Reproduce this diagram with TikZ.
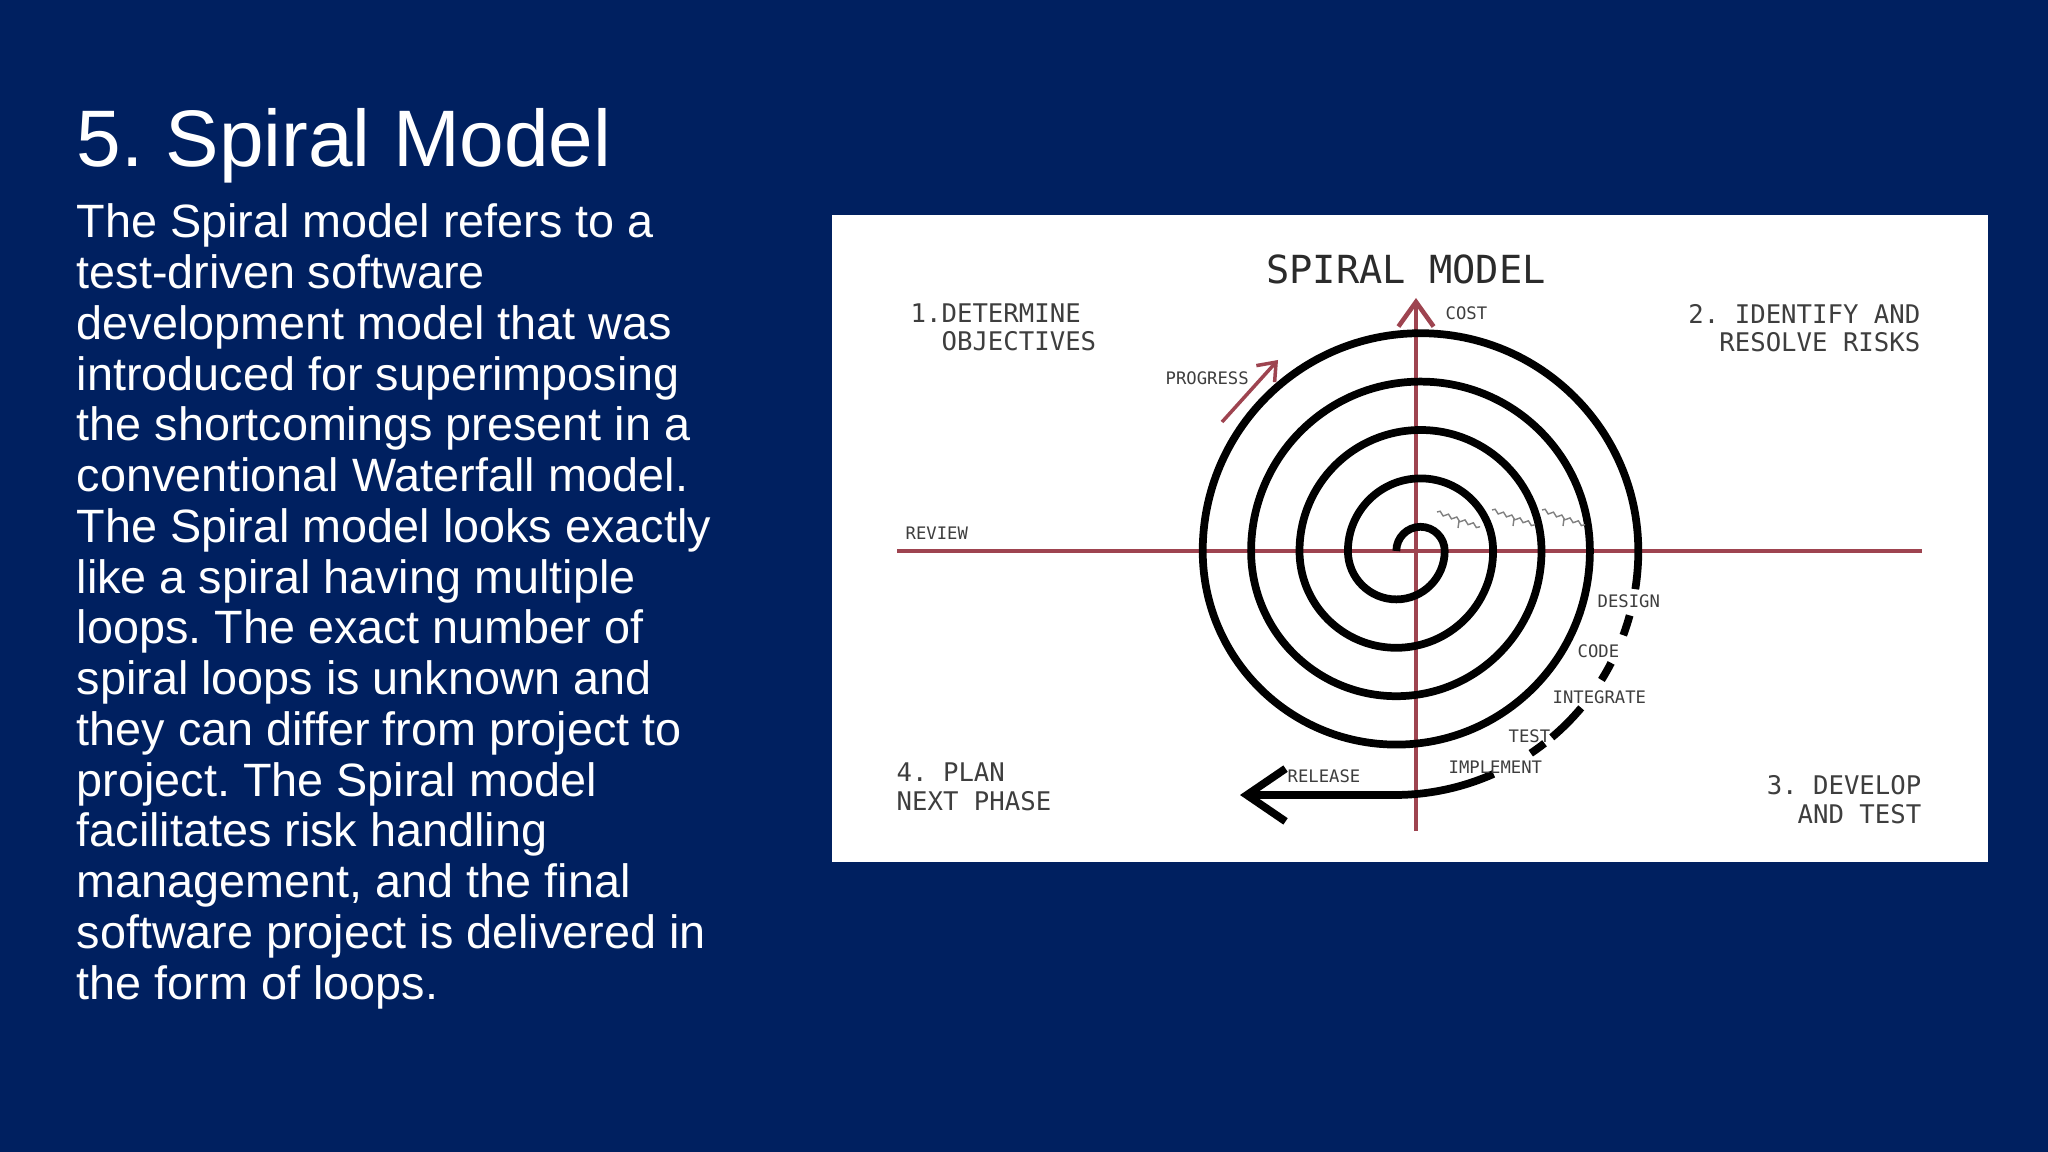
\documentclass[tikz,border=0pt]{standalone}
\usepackage{fontspec}
\setmainfont{Liberation Sans}
\newfontfamily\monofont{DejaVu Sans Mono}
\usetikzlibrary{arrows.meta,decorations.pathmorphing,positioning}
\definecolor{slideblue}{HTML}{002060}
\definecolor{axisred}{RGB}{158,68,80}
\definecolor{inkgray}{RGB}{62,62,62}
\frenchspacing

\begin{document}
\begin{tikzpicture}[x=0.01cm,y=-0.01cm,
		heading/.style={anchor=base west,inner sep=0pt,text=white,font=\fontsize{22.8}{26}\selectfont},
		body/.style={anchor=base west,inner sep=0pt,text=white,align=left,font=\fontsize{13.3}{14.43}\selectfont},
		quadrant/.style={inner sep=0pt,text=inkgray,font=\monofont\fontsize{7.3}{8}\selectfont},
		tag/.style={anchor=base west,inner sep=0pt,text=inkgray,font=\monofont\fontsize{4.9}{6}\selectfont},
		axis/.style={draw=axisred,line width=1.3pt},
		spiral/.style={draw=black,line width=2.2pt},
		scribble/.style={draw=gray,line width=0.4pt,decorate,decoration={snake,amplitude=0.5pt,segment length=2.5pt}}]
				\fill[slideblue] (0,0) rectangle (2048,1152);
				\node[heading] (heading) at (76,167) {5. Spiral Model};
				% base of a multi-line node is its last line
				\node[body] (intro) at (76,999) {The Spiral model refers to a\\test-driven software\\development model that was\\introduced for superimposing\\the shortcomings present in a\\conventional Waterfall model.\\The Spiral model looks exactly\\like a spiral having multiple\\loops. The exact number of\\spiral loops is unknown and\\they can differ from project to\\project. The Spiral model\\facilitates risk handling\\management, and the final\\software project is delivered in\\the form of loops.};
				% the picture
				\fill[white] (832,215) rectangle (1988,862);
				\node[anchor=base,inner sep=0pt,text=inkgray!70!black,font=\monofont\fontsize{11}{13}\selectfont] (diagtitle) at (1406,284) {SPIRAL MODEL};
				\node[quadrant,anchor=base west,align=left] (q1) at (910,351) {1.DETERMINE\\\hphantom{1.}OBJECTIVES};
				\node[quadrant,anchor=base east,align=right] (q2) at (1921,352) {2. IDENTIFY AND\\RESOLVE RISKS};
				\node[quadrant,anchor=base east,align=right] (q3) at (1922,823) {3. DEVELOP\\AND TEST};
				\node[quadrant,anchor=base west,align=left] (q4) at (896,810) {4. PLAN\\NEXT PHASE};
				% axes
				\coordinate (west) at (897,551);
				\coordinate (east) at (1922,551);
				\coordinate (south) at (1416,831);
				\coordinate (north) at (1416,298);
				\draw[axis] (west) -- (east);
				\draw[axis,-{Straight Barb[length=7pt,width=10pt]}] (south) -- (north);
				\coordinate (p0) at (1222,422);
				\coordinate (p1) at (1278,360);
				\draw[axis,line width=1pt,-{Straight Barb[length=4.5pt,width=7pt]}] (p0) -- (p1);
				% spiral, half turns
				\draw[spiral] (1396.3,551) \foreach \k in {0,...,3}{
						arc[start angle=180,end angle=360,radius={24.2*(2*\k+1)}]
						arc[start angle=0,end angle=180,radius={24.2*(2*\k+2)}]}
					arc[start angle=180,end angle=360,radius=217.8];
				\coordinate (lo) at (1394.3,551);
				\foreach \a/\b in {0/9,15.3/20.2,27.3/31.9,40/49.8,52/56}
					\draw[spiral] (lo) ++(\a:244) arc[start angle=\a,end angle=\b,radius=244];
				\coordinate (release) at (1240,795);
				\draw[spiral,-{Straight Barb[length=11pt,width=15pt]}] (lo) ++(66:244) arc[start angle=66,end angle=90,radius=244] -- (release);
				\foreach \x/\y in {1437/512,1492/510,1542/510}{
					\draw[scribble] (\x,\y) -- ++(43,15);
					\draw[gray,line width=0.4pt] (\x+22,\y+9) -- ++(-1,7);}
				% labels
				\node[tag] (cost) at (1445,320) {COST};
				\node[tag] (progress) at (1165,385) {PROGRESS};
				\node[tag] (review) at (905,540) {REVIEW};
				\node[tag] (design) at (1597,607) {DESIGN};
				\node[tag] (code) at (1577,657) {CODE};
				\node[tag] (integrate) at (1552,703) {INTEGRATE};
				\node[tag] (test) at (1508,742) {TEST};
				\node[tag] (implement) at (1448,773) {IMPLEMENT};
				\node[tag] (releasetag) at (1287,782) {RELEASE};
			\end{tikzpicture}
\end{document}
